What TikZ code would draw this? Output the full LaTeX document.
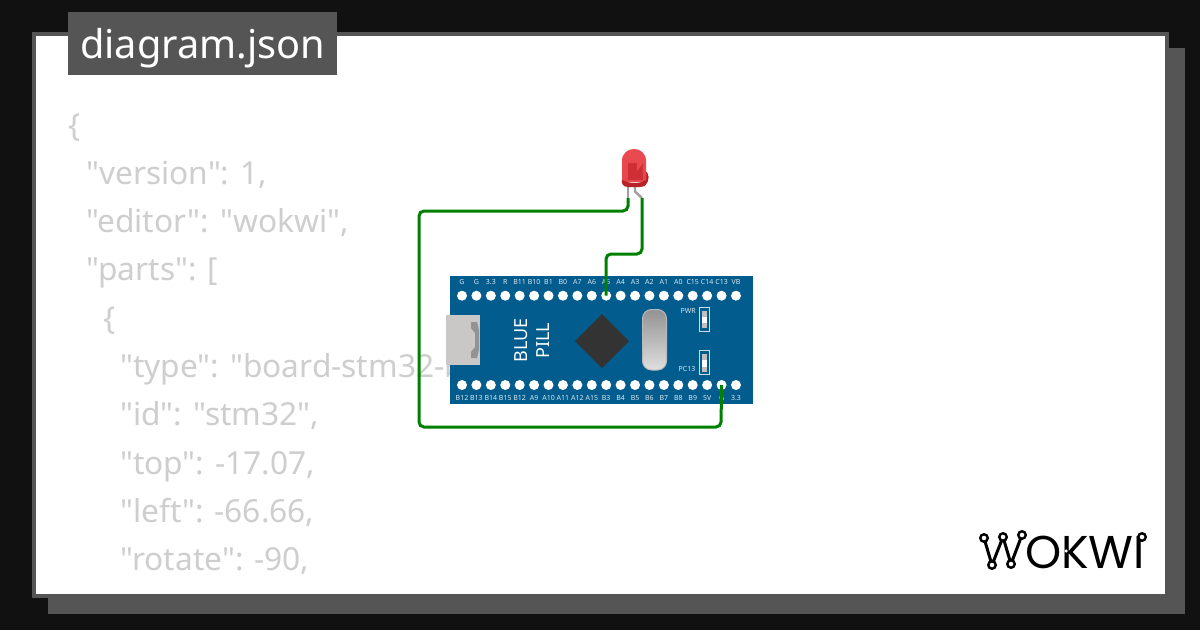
\documentclass[tikz,border=0pt]{standalone}
\usepackage{fontspec}
\setmainfont{Noto Sans}
\newfontfamily\codefont{Noto Sans}
\newfontfamily\logofont{Poppins}
\definecolor{pagedark}{HTML}{111111}
\definecolor{framegray}{HTML}{555555}
\definecolor{codegray}{HTML}{CECECE}
\definecolor{boardblue}{HTML}{025C8E}
\definecolor{usbgray}{HTML}{CAC8C6}
\definecolor{wiregreen}{HTML}{008000}
\definecolor{ledred}{HTML}{EA4A50}
\definecolor{leddark}{HTML}{CF3035}
\definecolor{ledrim}{HTML}{B82226}
\tikzset{
  codeline/.style={anchor=base west, inner sep=0pt, text=codegray, font=\codefont\fontsize{31.7}{36}\selectfont},
  pinhole/.style={circle, fill=white, inner sep=0pt, minimum size=10pt},
  pinlabel/.style={anchor=base, inner sep=0pt, text=white!85!boardblue, font=\fontsize{7}{9}\selectfont},
  boardtext/.style={rotate=90, inner sep=0pt, text=white, font=\fontsize{18}{20}\selectfont},
  wire/.style={draw=wiregreen, line width=3pt, rounded corners=5pt},
  lead/.style={draw=gray!75, line width=2.4pt},
  logoline/.style={line width=3pt, line cap=round, line join=round},
  logoring/.style={circle, draw=black, fill=white, line width=2.4pt, inner sep=0pt, minimum size=7.5pt}
}
\begin{document}
\begin{tikzpicture}[x=1pt,y=-1pt]
\newcommand{\pinsep}{14.42}
\newcommand{\pinx}{462}
\newcommand{\pintop}{295.7}
\newcommand{\pinbot}{385}
\useasboundingbox (0,0) rectangle (1200,630);
\fill [pagedark] (0,0) rectangle (1200,630);
\fill [framegray] (48,48) rectangle (1185,614);
\fill [framegray] (32,32) rectangle (1169,598);
\fill [white] (36,36) rectangle (1165,594);

%json text behind the board
\foreach \i/\xpos/\txt in {
  0/68/{\{},
  1/86/{"version": 1,},
  2/86/{"editor": "wokwi",},
  3/86/{"parts": [},
  4/103/{\{},
  5/120/{"type": "board-stm32-bluepill",},
  6/120/{"id": "stm32",},
  7/120/{"top": -17.07,},
  8/120/{"left": -66.66,},
  9/120/{"rotate": -90,}}
  \node [codeline] (code\i) at (\xpos,136+48.3*\i) {\txt};

\fill [framegray] (68,12) rectangle (337,75);
\node [anchor=base west, inner sep=0pt, text=white, font=\fontsize{39.7}{44}\selectfont] (title) at (80,58) {diagram.json};

%board
\fill [boardblue] (449.5,275.5) rectangle (753,403.5);
\foreach \i/\txt in {0/G,1/G,2/3.3,3/R,4/B11,5/B10,6/B1,7/B0,8/A7,9/A6,10/A5,11/A4,12/A3,13/A2,14/A1,15/A0,16/C15,17/C14,18/C13,19/VB} {
  \node [pinhole] (top\i) at (\pinx+\pinsep*\i,\pintop) {};
  \node [pinlabel] (toplabel\i) at (\pinx+\pinsep*\i,284.7) {\txt};
}
\foreach \i/\txt in {0/B12,1/B13,2/B14,3/B15,4/B12,5/A9,6/A10,7/A11,8/A12,9/A15,10/B3,11/B4,12/B5,13/B6,14/B7,15/B8,16/B9,17/5V,18/G,19/3.3} {
  \node [pinhole] (bot\i) at (\pinx+\pinsep*\i,\pinbot) {};
  \node [pinlabel] (botlabel\i) at (\pinx+\pinsep*\i,400.2) {\txt};
}
\fill [usbgray] (446,315) rectangle (480,365);
\fill [gray!85] (471,322) -- (477,322) -- (479,330) -- (479,350) -- (477,358) -- (471,358) -- (471,352) -- (475,347) -- (475,333) -- (471,328) -- cycle;
\node [boardtext] (blue) at (521.5,340.5) {BLUE};
\node [boardtext] (pill) at (543.5,340.5) {PILL};
\fill [black!80] (602,314) -- (629,341) -- (602,368) -- (575,341) -- cycle;
\draw [draw=gray!55, line width=1pt, rounded corners=9pt, top color=gray!85, bottom color=gray!25] (642.5,309.5) rectangle (666.5,370);

%switches
\draw [draw=white!80!boardblue, line width=1pt] (699.5,307.5) rectangle (709,331);
\fill [gray!50] (702,311) rectangle (707,328);
\fill [white] (702,316.5) rectangle (707,322.5);
\node [pinlabel, anchor=base east] (pwr) at (696,313.5) {PWR};
\draw [draw=white!80!boardblue, line width=1pt] (699.5,350.5) rectangle (709,374);
\fill [gray!50] (702,354) rectangle (707,372);
\fill [white] (702,360) rectangle (707,367);
\node [pinlabel, anchor=base east] (pctt) at (695.5,371.5) {PC13};

%led
\coordinate (ledc) at (628,198);
\coordinate (leda) at (642,198);
\draw [lead] (628,186) -- (ledc);
\draw [lead] (635,186) -- (635,191.5) -- (leda);
\fill [ledrim] (644,170) .. controls (650,172) and (650,182) .. (645,185) -- cycle;
\shade [top color=ledred, bottom color=ledred!85!leddark] (622,182) -- (622,161) .. controls (622,145) and (646,145) .. (646,161) -- (646,182) -- cycle;
\fill [leddark] (628,163) -- (643,163) -- (643,180) -- (628,180) -- cycle;
\fill [ledred] (637,163) -- (643,163) -- (637,171) -- cycle;
\fill [ledrim] (622,180) .. controls (630,184) and (640,184) .. (646,180) .. controls (648,183) and (646,187) .. (640,187) -- (628,187) .. controls (623,187) and (621,183) .. (622,180) -- cycle;

%wires
\draw [wire] (leda) |- (606,254) -- (top10.center);
\draw [wire] (ledc) |- (419,211) |- (721,427) -- (bot18.center);

%logo
\draw [logoline] (984,538) -- (992,565) -- (1003,537) -- (1011,564) -- (1022,535);
\foreach \i/\xpos/\ypos in {0/984/538,1/1003/537,2/1022/535,3/992/565,4/1011/564}
  \node [logoring] (ring\i) at (\xpos,\ypos) {};
\node [anchor=base west, inner sep=0pt, font=\logofont\fontsize{46}{50}\selectfont] (wokwi) at (1025,568) {OKWI};
\node [logoring] (dot) at (1142,537) {};
\node [circle, fill=white, inner sep=0pt, minimum size=3.5pt] (kdot) at (1066,551) {};
\end{tikzpicture}
\end{document}
